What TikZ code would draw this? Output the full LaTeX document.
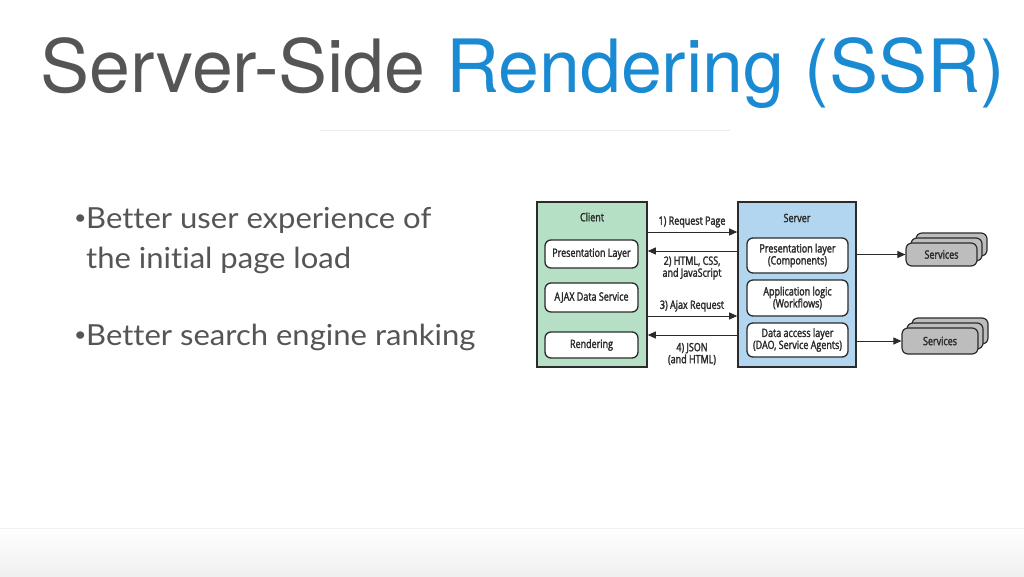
\documentclass[tikz,border=0pt]{standalone}
\usepackage{fontspec}
\usepackage{tikz}
\usetikzlibrary{arrows.meta}
\newfontfamily\titlefont{TeX Gyre Heros}
\newfontfamily\bulletfont[FakeStretch=1.07, Ligatures=NoCommon]{Lato}
\newfontfamily\diagfont[FakeStretch=0.78, FakeBold=2]{Open Sans}
\definecolor{titlegray}{HTML}{555555}
\definecolor{titleblue}{HTML}{1A8AD3}
\definecolor{clientgreen}{HTML}{B6E0C6}
\definecolor{serverblue}{HTML}{B2D6EF}
\definecolor{svcgray}{HTML}{BDBDBD}
\definecolor{edgegray}{HTML}{2B2B2B}
\begin{document}
\begin{tikzpicture}[x=1pt, y=-1pt,
    tier/.style={draw=edgegray, line width=1.6pt, minimum width=110pt, minimum height=165pt, inner sep=0pt},
    layer/.style={draw=edgegray, line width=1.3pt, fill=white, rounded corners=6pt, inner sep=0pt,
        align=center, font=\diagfont\fontsize{11.5}{12}\selectfont, text=edgegray},
    svc/.style={draw=edgegray, line width=1.2pt, fill=svcgray, rounded corners=6pt, inner sep=0pt,
        font=\diagfont\fontsize{11.5}{12}\selectfont, text=edgegray},
    msg/.style={align=center, font=\diagfont\fontsize{11.5}{12}\selectfont, text=edgegray, inner sep=0pt},
    bullet/.style={anchor=base west, inner sep=0pt, text=titlegray, font=\bulletfont\fontsize{29}{34}\selectfont},
    flow/.style={draw=edgegray, line width=0.9pt, -{Triangle[length=8pt,width=7pt]}}]
        \useasboundingbox (0,0) rectangle (1024,576);
        \fill[white] (0,0) rectangle (1024,576);

        % Footer band
        \shade[top color=white, bottom color=gray!12] (0,528) rectangle (1024,576);
        \draw[gray!12, line width=1pt] (0,528) -- (1024,528);

        % Title
        \node[anchor=base west, inner sep=0pt, font=\titlefont\fontsize{73.5}{80}\selectfont] (title) at (40,92)
            {\textcolor{titlegray}{Server-Side} \textcolor{titleblue}{Rendering (SSR)}};
        \draw[gray!15, line width=1pt] (320,130) -- (730,130);

        % Bullets
        \node[bullet, font=\bulletfont\fontsize{20}{24}\selectfont] (dot1) at (74,224) {•};
        \node[bullet] (b1) at (86,228) {Better user experience of};
        \node[bullet] (b1b) at (86,268) {the initial page load};
        \node[bullet, font=\bulletfont\fontsize{20}{24}\selectfont] (dot2) at (74,341) {•};
        \node[bullet] (b2) at (86,345) {Better search engine ranking};

        % Tiers
        \node[tier, fill=clientgreen] (client) at (592,284.5) {};
        \node[tier, fill=serverblue, minimum width=118pt] (server) at (797,284.5) {};
        \node[msg] (clabel) at (592,217) {Client};
        \node[msg] (slabel) at (797,218) {Server};

        % Client layers
        \node[layer, minimum width=93pt, minimum height=28pt] (cpres) at (591.5,254) {Presentation Layer};
        \node[layer, minimum width=93pt, minimum height=29pt] (cajax) at (591.5,297.5) {AJAX Data Service};
        \node[layer, minimum width=93pt, minimum height=26pt] (crend) at (591.5,345) {Rendering};

        % Server layers
        \node[layer, minimum width=101pt, minimum height=35pt] (spres) at (797.5,255.5) {Presentation layer\\(Components)};
        \node[layer, minimum width=101pt, minimum height=36pt] (sapp) at (797.5,298) {Application logic\\(Workflows)};
        \node[layer, minimum width=101pt, minimum height=34pt] (sdata) at (797.5,340) {Data access layer\\(DAO, Service Agents)};

        % Services stacks
        \foreach \d in {10,5} {
            \node[svc, minimum width=71pt, minimum height=23pt] at (941.5+\d,254.5-\d) {};
            \node[svc, minimum width=76pt, minimum height=26pt] at (940+\d,341-\d) {};
        }
        \node[svc, minimum width=71pt, minimum height=23pt] (svc1) at (941.5,254.5) {Services};
        \node[svc, minimum width=76pt, minimum height=26pt] (svc2) at (940,341) {Services};

        % Messages
        \draw[flow] (client.east |- 0,232) -- (server.west |- 0,232);
        \draw[flow] (server.west |- 0,251) -- (client.east |- 0,251);
        \draw[flow] (client.east |- 0,316) -- (server.west |- 0,316);
        \draw[flow] (server.west |- 0,335) -- (client.east |- 0,335);
        \node[msg] (m1) at (692,222) {1) Request Page};
        \node[msg] (m2) at (692,268) {2) HTML, CSS,\\and JavaScript};
        \node[msg] (m3) at (692,306) {3) Ajax Request};
        \node[msg] (m4) at (692,354) {4) JSON\\(and HTML)};

        % Server to services
        \draw[flow] (server.east |- svc1.west) -- (svc1.west);
        \draw[flow] (server.east |- svc2.west) -- (svc2.west);
    \end{tikzpicture}
\end{document}
